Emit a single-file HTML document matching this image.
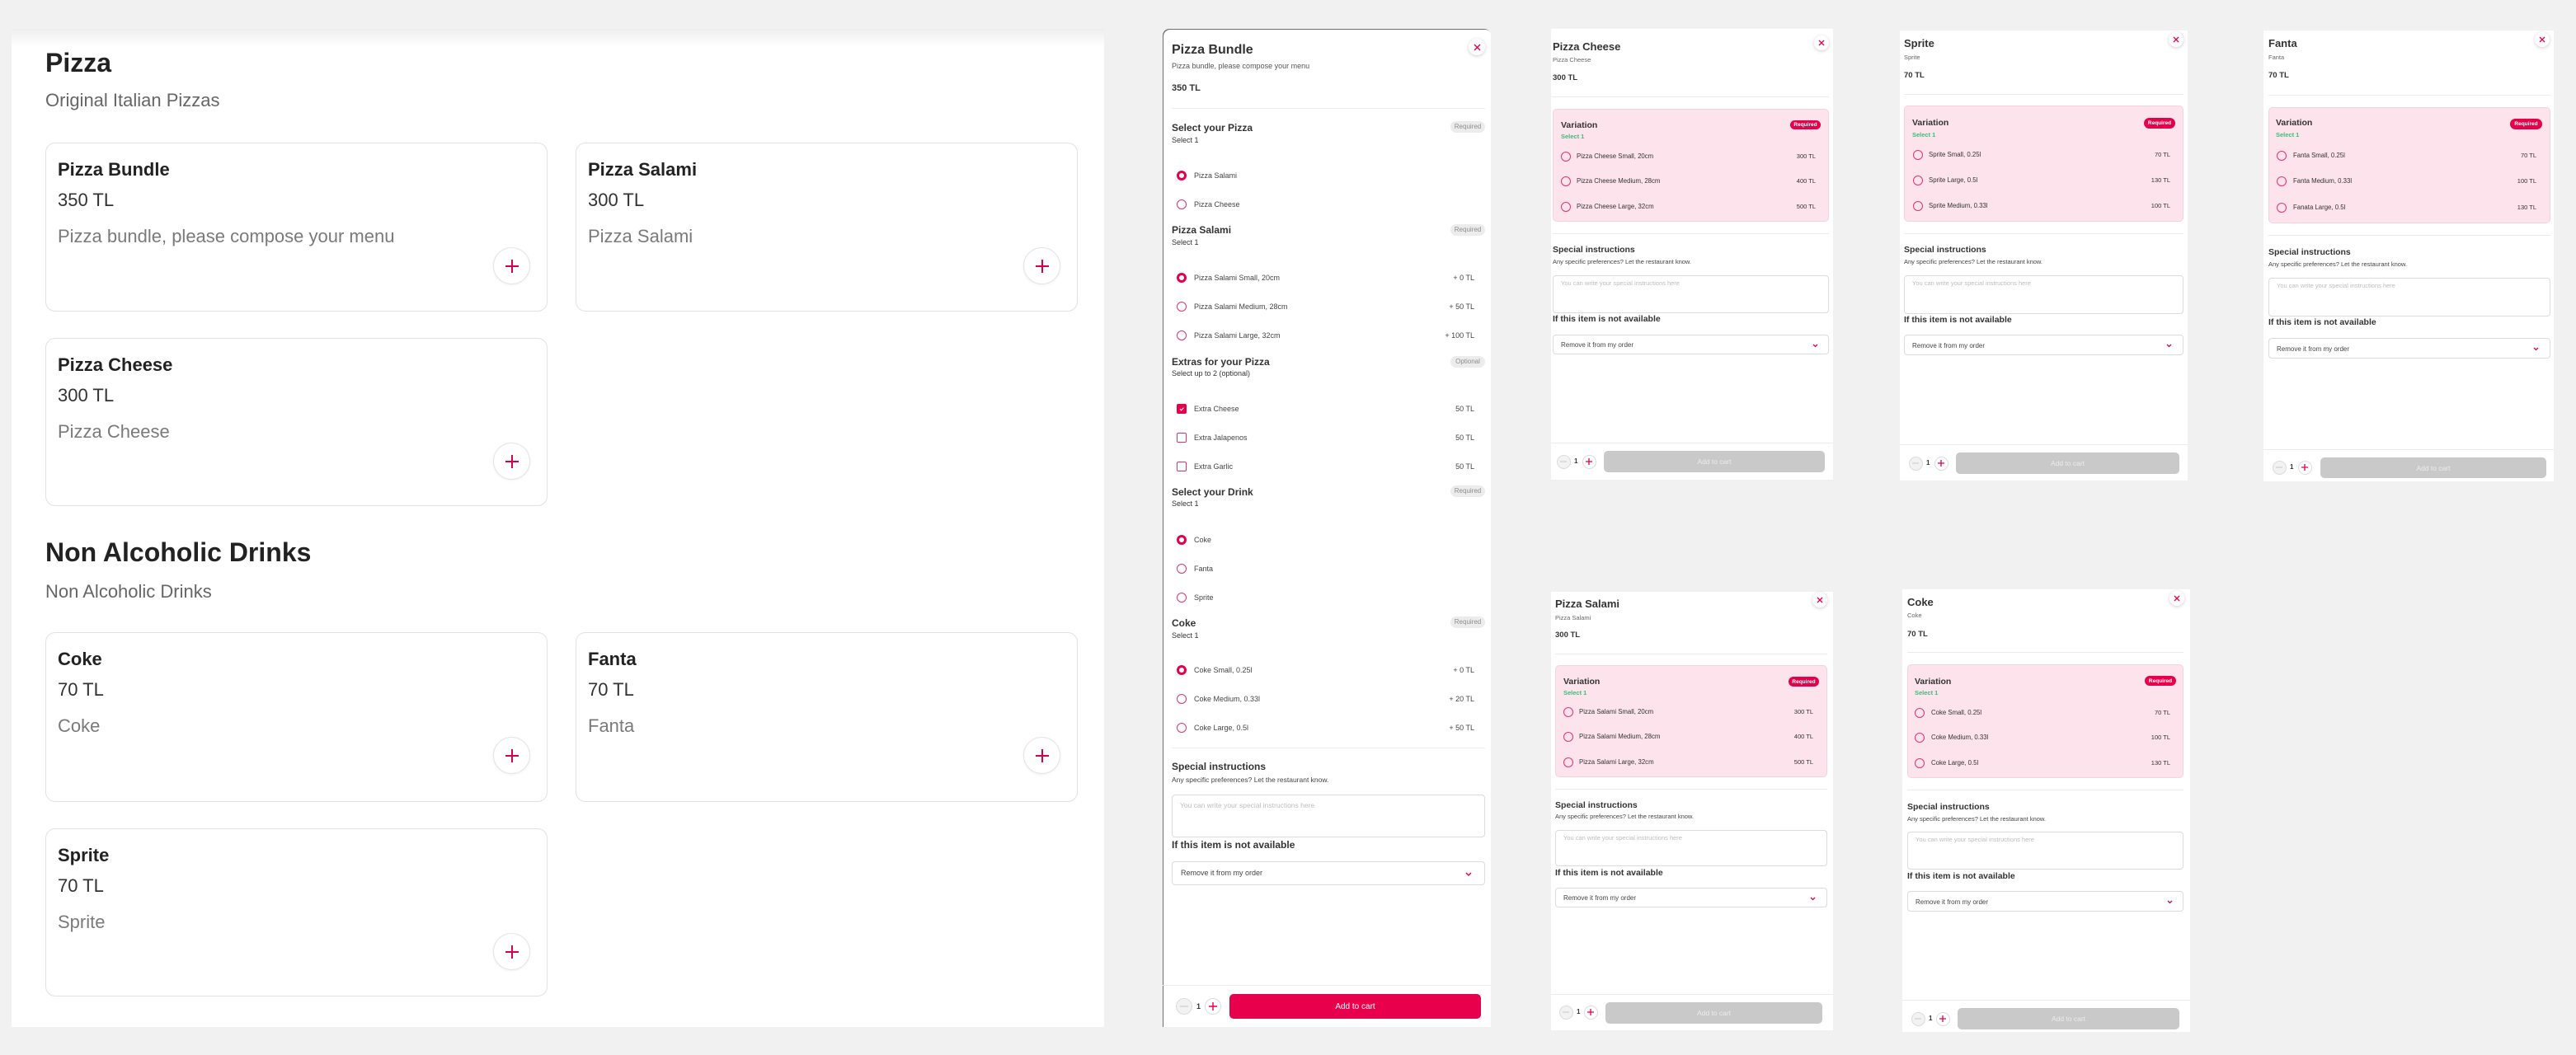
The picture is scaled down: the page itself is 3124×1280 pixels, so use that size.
<!DOCTYPE html>
<html><head><meta charset="utf-8">
<style>
*{margin:0;padding:0;box-sizing:border-box}
body{width:3124px;height:1280px;background:#f1f1f1;position:relative;overflow:hidden;font-family:"Liberation Sans",Arial,sans-serif;color:#333}
.a{position:absolute}
.t{position:absolute;line-height:1;white-space:nowrap}
.card{position:absolute;width:609px;border:1px solid #e2e2e2;border-radius:12px;background:#fff}
.ct{left:14px;top:21px;font-size:22px;font-weight:bold;color:#222}
.cp{left:14px;top:58px;font-size:22px;color:#333}
.cd{left:14px;top:102px;font-size:22px;color:#7a7a7a}
.plus{position:absolute;left:542px;top:126px;width:45px;height:45px;border-radius:50%;border:1px solid #e4e4e4;box-shadow:0 1px 3px rgba(0,0,0,.06);display:flex;align-items:center;justify-content:center;background:#fff}
.pan{position:absolute;background:#fff}
.hr{position:absolute;height:1px;background:#ebebeb}
.xb{position:absolute;border-radius:50%;background:#fff;box-shadow:0 1px 4px rgba(0,0,0,.2);display:flex;align-items:center;justify-content:center}
.bh{font-size:12px;font-weight:bold;color:#333}
.bs{font-size:9px;color:#333}
.bpill{position:absolute;left:349px;width:42px;height:14px;line-height:14px;border-radius:7px;background:#ececec;color:#8c8c8c;font-size:8px;text-align:center}
.row{position:absolute;left:0;right:0;height:12px;line-height:12px;font-size:9px;color:#444;white-space:nowrap}
.rd{position:absolute;top:0;width:12px;height:12px;border-radius:50%;border:1.3px solid #df3570}
.rd.on{border:3.5px solid #e4004b}
.cb{position:absolute;top:0;width:12px;height:12px;border:1.3px solid #d8336b;border-radius:2px}
.cb.on{background:#e4004b;border-color:#e4004b}
.lb{position:absolute;top:0}
.pz{position:absolute;top:0;color:#444}
.box{position:absolute;border:1px solid #dcdcdc;border-radius:4px;background:#fff}
.ph{color:#bdbdbd}
.circ{position:absolute;border-radius:50%;border:1px solid #dcdcdc;display:flex;align-items:center;justify-content:center;background:#fff}
.circ.m{background:#f2f2f2}
.btn{position:absolute;border-radius:5px;display:flex;align-items:center;justify-content:center;white-space:nowrap}
.s-ttl{font-size:13px;font-weight:bold;color:#333}
.s-sub{font-size:7.5px;color:#666}
.s-pr{font-size:9.5px;font-weight:bold;color:#333}
.pink{position:absolute;background:#fde3eb;border:1px solid #f5d2dd;border-radius:5px}
.s-var{font-size:10.5px;font-weight:bold;color:#333}
.s-sel{font-size:7.5px;font-weight:bold;color:#3dbd7d}
.spill{position:absolute;background:#e6004c;color:#fff;font-size:6.5px;font-weight:bold;border-radius:7px;text-align:center;display:flex;align-items:center;justify-content:center}
.srow{position:absolute;left:0;right:0;height:12px;line-height:12px;font-size:7.8px;color:#333;white-space:nowrap}
.srow .pz{color:#333;font-size:7.5px}
.s-h{font-size:10.5px;font-weight:bold;color:#333}
.s-any{font-size:7.5px;color:#444}
</style></head>
<body>

<!-- LEFT MENU PANEL -->
<div class="a" style="left:14px;top:35px;width:1325px;height:1211px;background:linear-gradient(#eeeeee,#fff 22px)"></div>
<div class="t" style="left:55px;top:60px;font-size:32px;font-weight:bold;color:#222">Pizza</div>
<div class="t" style="left:55px;top:111px;font-size:22px;color:#666">Original Italian Pizzas</div>

<div class="card" style="left:55px;top:173px;height:205px"><div class="t ct">Pizza Bundle</div><div class="t cp">350 TL</div><div class="t cd">Pizza bundle, please compose your menu</div><div class="plus"><svg width="18" height="18"><path d="M9 1V17M1 9H17" stroke="#d6004f" stroke-width="2"/></svg></div></div>
<div class="card" style="left:698px;top:173px;height:205px"><div class="t ct">Pizza Salami</div><div class="t cp">300 TL</div><div class="t cd">Pizza Salami</div><div class="plus"><svg width="18" height="18"><path d="M9 1V17M1 9H17" stroke="#d6004f" stroke-width="2"/></svg></div></div>
<div class="card" style="left:55px;top:410px;height:204px"><div class="t ct">Pizza Cheese</div><div class="t cp">300 TL</div><div class="t cd">Pizza Cheese</div><div class="plus"><svg width="18" height="18"><path d="M9 1V17M1 9H17" stroke="#d6004f" stroke-width="2"/></svg></div></div>

<div class="t" style="left:55px;top:654px;font-size:32px;font-weight:bold;color:#222">Non Alcoholic Drinks</div>
<div class="t" style="left:55px;top:707px;font-size:22px;color:#666">Non Alcoholic Drinks</div>

<div class="card" style="left:55px;top:767px;height:206px"><div class="t ct">Coke</div><div class="t cp">70 TL</div><div class="t cd">Coke</div><div class="plus"><svg width="18" height="18"><path d="M9 1V17M1 9H17" stroke="#d6004f" stroke-width="2"/></svg></div></div>
<div class="card" style="left:698px;top:767px;height:206px"><div class="t ct">Fanta</div><div class="t cp">70 TL</div><div class="t cd">Fanta</div><div class="plus"><svg width="18" height="18"><path d="M9 1V17M1 9H17" stroke="#d6004f" stroke-width="2"/></svg></div></div>
<div class="card" style="left:55px;top:1005px;height:204px"><div class="t ct">Sprite</div><div class="t cp">70 TL</div><div class="t cd">Sprite</div><div class="plus"><svg width="18" height="18"><path d="M9 1V17M1 9H17" stroke="#d6004f" stroke-width="2"/></svg></div></div>

<!-- PIZZA BUNDLE PANEL -->
<div class="pan" style="left:1410px;top:35px;width:398px;height:1211px;border-radius:8px 8px 0 0;box-shadow:inset 1px 1px 0 #6f6f6f">
 <div class="t" style="left:11px;top:18px;font-size:16px;font-weight:bold;color:#333">Pizza Bundle</div>
 <div class="xb" style="left:371px;top:12px;width:20px;height:20px"><svg width="9" height="9"><path d="M1 1L8 8M8 1L1 8" stroke="#e0004d" stroke-width="1.4"/></svg></div>
 <div class="t" style="left:11px;top:41px;font-size:9px;color:#555">Pizza bundle, please compose your menu</div>
 <div class="t" style="left:11px;top:67px;font-size:11px;font-weight:bold;color:#333">350 TL</div>
 <div class="hr" style="left:11px;top:96px;width:380px"></div>

 <div class="t bh" style="left:11px;top:114px">Select your Pizza</div>
 <div class="bpill" style="top:112px">Required</div>
 <div class="t bs" style="left:11px;top:131px">Select 1</div>
 <div class="row" style="top:172px"><i class="rd on" style="left:17px"></i><span class="lb" style="left:38px">Pizza Salami</span></div>
 <div class="row" style="top:207px"><i class="rd" style="left:17px"></i><span class="lb" style="left:38px">Pizza Cheese</span></div>

 <div class="t bh" style="left:11px;top:238px">Pizza Salami</div>
 <div class="bpill" style="top:237px">Required</div>
 <div class="t bs" style="left:11px;top:255px">Select 1</div>
 <div class="row" style="top:296px"><i class="rd on" style="left:17px"></i><span class="lb" style="left:38px">Pizza Salami Small, 20cm</span><span class="pz" style="right:20px">+ 0 TL</span></div>
 <div class="row" style="top:331px"><i class="rd" style="left:17px"></i><span class="lb" style="left:38px">Pizza Salami Medium, 28cm</span><span class="pz" style="right:20px">+ 50 TL</span></div>
 <div class="row" style="top:366px"><i class="rd" style="left:17px"></i><span class="lb" style="left:38px">Pizza Salami Large, 32cm</span><span class="pz" style="right:20px">+ 100 TL</span></div>

 <div class="t bh" style="left:11px;top:398px">Extras for your Pizza</div>
 <div class="bpill" style="top:397px">Optional</div>
 <div class="t bs" style="left:11px;top:414px">Select up to 2 (optional)</div>
 <div class="row" style="top:455px"><i class="cb on" style="left:17px"><svg width="10" height="10" style="position:absolute;left:0;top:0"><path d="M3 5.2L4.6 6.8L7.4 3.6" stroke="#fff" stroke-width="1.1" fill="none"/></svg></i><span class="lb" style="left:38px">Extra Cheese</span><span class="pz" style="right:20px">50 TL</span></div>
 <div class="row" style="top:490px"><i class="cb" style="left:17px"></i><span class="lb" style="left:38px">Extra Jalapenos</span><span class="pz" style="right:20px">50 TL</span></div>
 <div class="row" style="top:525px"><i class="cb" style="left:17px"></i><span class="lb" style="left:38px">Extra Garlic</span><span class="pz" style="right:20px">50 TL</span></div>

 <div class="t bh" style="left:11px;top:556px">Select your Drink</div>
 <div class="bpill" style="top:554px">Required</div>
 <div class="t bs" style="left:11px;top:572px">Select 1</div>
 <div class="row" style="top:614px"><i class="rd on" style="left:17px"></i><span class="lb" style="left:38px">Coke</span></div>
 <div class="row" style="top:649px"><i class="rd" style="left:17px"></i><span class="lb" style="left:38px">Fanta</span></div>
 <div class="row" style="top:684px"><i class="rd" style="left:17px"></i><span class="lb" style="left:38px">Sprite</span></div>

 <div class="t bh" style="left:11px;top:715px">Coke</div>
 <div class="bpill" style="top:713px">Required</div>
 <div class="t bs" style="left:11px;top:732px">Select 1</div>
 <div class="row" style="top:772px"><i class="rd on" style="left:17px"></i><span class="lb" style="left:38px">Coke Small, 0.25l</span><span class="pz" style="right:20px">+ 0 TL</span></div>
 <div class="row" style="top:807px"><i class="rd" style="left:17px"></i><span class="lb" style="left:38px">Coke Medium, 0.33l</span><span class="pz" style="right:20px">+ 20 TL</span></div>
 <div class="row" style="top:842px"><i class="rd" style="left:17px"></i><span class="lb" style="left:38px">Coke Large, 0.5l</span><span class="pz" style="right:20px">+ 50 TL</span></div>

 <div class="hr" style="left:11px;top:872px;width:380px"></div>
 <div class="t bh" style="left:11px;top:889px">Special instructions</div>
 <div class="t" style="left:11px;top:907px;font-size:8.5px;color:#444">Any specific preferences? Let the restaurant know.</div>
 <div class="box" style="left:11px;top:929px;width:380px;height:52px"><span class="t ph" style="left:9px;top:8px;font-size:8.5px">You can write your special instructions here</span></div>
 <div class="t bh" style="left:11px;top:984px">If this item is not available</div>
 <div class="box" style="left:11px;top:1010px;width:380px;height:29px"><span class="t" style="left:10px;top:9px;font-size:9px;color:#444">Remove it from my order</span><svg class="a" style="right:15px;top:12px" width="8" height="5"><path d="M1 1L4 4L7 1" stroke="#e0004d" stroke-width="1.4" fill="none"/></svg></div>

 <div class="hr" style="left:0;top:1160px;width:398px"></div>
 <div class="circ m" style="left:16px;top:1176px;width:20px;height:20px"><svg width="10" height="2"><path d="M0 1H10" stroke="#ccc" stroke-width="1.2"/></svg></div>
 <div class="t" style="left:41px;top:1182px;font-size:9px;font-weight:bold;color:#333">1</div>
 <div class="circ" style="left:51px;top:1176px;width:20px;height:20px"><svg width="10" height="10"><path d="M5 0V10M0 5H10" stroke="#e0004d" stroke-width="1.4"/></svg></div>
 <div class="btn" style="left:81px;top:1171px;width:305px;height:30px;background:#e8004c;color:#fff;font-size:10px">Add to cart</div>
</div>

<!-- PIZZA CHEESE -->
<div class="pan" style="left:1881px;top:35px;width:342px;height:547px">
 <div class="t s-ttl" style="left:2px;top:15px">Pizza Cheese</div>
 <div class="xb" style="left:319px;top:8px;width:18px;height:18px"><svg width="8" height="8"><path d="M1 1L7 7M7 1L1 7" stroke="#e0004d" stroke-width="1.3"/></svg></div>
 <div class="t s-sub" style="left:2px;top:34px">Pizza Cheese</div>
 <div class="t s-pr" style="left:2px;top:55px">300 TL</div>
 <div class="hr" style="left:0;top:82px;width:337px"></div>
 <div class="pink" style="left:2px;top:97px;width:335px;height:137px"></div>
 <div class="t s-var" style="left:12px;top:112px">Variation</div>
 <div class="t s-sel" style="left:12px;top:127px">Select 1</div>
 <div class="spill" style="left:290px;top:111px;width:37px;height:11px">Required</div>
 <div class="srow" style="top:149px"><i class="rd" style="left:12px"></i><span class="lb" style="left:31px">Pizza Cheese Small, 20cm</span><span class="pz" style="right:21px">300 TL</span></div>
 <div class="srow" style="top:179px"><i class="rd" style="left:12px"></i><span class="lb" style="left:31px">Pizza Cheese Medium, 28cm</span><span class="pz" style="right:21px">400 TL</span></div>
 <div class="srow" style="top:210px"><i class="rd" style="left:12px"></i><span class="lb" style="left:31px">Pizza Cheese Large, 32cm</span><span class="pz" style="right:21px">500 TL</span></div>
 <div class="hr" style="left:2px;top:248px;width:335px"></div>
 <div class="t s-h" style="left:2px;top:263px">Special instructions</div>
 <div class="t s-any" style="left:2px;top:279px">Any specific preferences? Let the restaurant know.</div>
 <div class="box" style="left:2px;top:299px;width:335px;height:46px"><span class="t ph" style="left:9px;top:5px;font-size:7.5px">You can write your special instructions here</span></div>
 <div class="t s-h" style="left:2px;top:347px">If this item is not available</div>
 <div class="box" style="left:2px;top:371px;width:335px;height:24px"><span class="t" style="left:9px;top:8px;font-size:8px;color:#444">Remove it from my order</span><svg class="a" style="right:12px;top:10px" width="7" height="5"><path d="M1 1L3.5 3.5L6 1" stroke="#e0004d" stroke-width="1.3" fill="none"/></svg></div>
 <div class="hr" style="left:0;top:502px;width:342px"></div>
 <div class="circ m" style="left:6.5px;top:516.5px;width:17px;height:17px"><svg width="8" height="2"><path d="M0 1H8" stroke="#ccc" stroke-width="1.1"/></svg></div>
 <div class="t" style="left:28px;top:521px;font-size:8px;font-weight:bold">1</div>
 <div class="circ" style="left:37.5px;top:516.5px;width:17px;height:17px"><svg width="8" height="8"><path d="M4 0V8M0 4H8" stroke="#e0004d" stroke-width="1.3"/></svg></div>
 <div class="btn" style="left:64px;top:512px;width:268px;height:26px;background:#c9c9c9;color:#ececec;font-size:8.5px">Add to cart</div>
</div>

<!-- SPRITE -->
<div class="pan" style="left:2304px;top:37px;width:349px;height:546px">
 <div class="t s-ttl" style="left:5px;top:9px">Sprite</div>
 <div class="xb" style="left:326px;top:2px;width:18px;height:18px"><svg width="8" height="8"><path d="M1 1L7 7M7 1L1 7" stroke="#e0004d" stroke-width="1.3"/></svg></div>
 <div class="t s-sub" style="left:5px;top:29px">Sprite</div>
 <div class="t s-pr" style="left:5px;top:50px">70 TL</div>
 <div class="hr" style="left:5px;top:77px;width:339px"></div>
 <div class="pink" style="left:5px;top:91px;width:339px;height:141px"></div>
 <div class="t s-var" style="left:15px;top:107px">Variation</div>
 <div class="t s-sel" style="left:15px;top:123px">Select 1</div>
 <div class="spill" style="left:296px;top:106px;width:38px;height:13px">Required</div>
 <div class="srow" style="top:145px"><i class="rd" style="left:16px"></i><span class="lb" style="left:35px">Sprite Small, 0.25l</span><span class="pz" style="right:21px">70 TL</span></div>
 <div class="srow" style="top:176px"><i class="rd" style="left:16px"></i><span class="lb" style="left:35px">Sprite Large, 0.5l</span><span class="pz" style="right:21px">130 TL</span></div>
 <div class="srow" style="top:207px"><i class="rd" style="left:16px"></i><span class="lb" style="left:35px">Sprite Medium, 0.33l</span><span class="pz" style="right:21px">100 TL</span></div>
 <div class="hr" style="left:5px;top:246px;width:339px"></div>
 <div class="t s-h" style="left:5px;top:261px">Special instructions</div>
 <div class="t s-any" style="left:5px;top:277px">Any specific preferences? Let the restaurant know.</div>
 <div class="box" style="left:5px;top:297px;width:339px;height:47px"><span class="t ph" style="left:9px;top:5px;font-size:7.5px">You can write your special instructions here</span></div>
 <div class="t s-h" style="left:5px;top:346px">If this item is not available</div>
 <div class="box" style="left:5px;top:369px;width:339px;height:25px"><span class="t" style="left:9px;top:8.5px;font-size:8px;color:#444">Remove it from my order</span><svg class="a" style="right:13.5px;top:10px" width="7" height="5"><path d="M1 1L3.5 3.5L6 1" stroke="#e0004d" stroke-width="1.3" fill="none"/></svg></div>
 <div class="hr" style="left:0;top:502px;width:349px"></div>
 <div class="circ m" style="left:10.5px;top:516.5px;width:17px;height:17px"><svg width="8" height="2"><path d="M0 1H8" stroke="#ccc" stroke-width="1.1"/></svg></div>
 <div class="t" style="left:32px;top:521px;font-size:8px;font-weight:bold">1</div>
 <div class="circ" style="left:41.5px;top:516.5px;width:17px;height:17px"><svg width="8" height="8"><path d="M4 0V8M0 4H8" stroke="#e0004d" stroke-width="1.3"/></svg></div>
 <div class="btn" style="left:68px;top:512px;width:271px;height:26px;background:#c9c9c9;color:#ececec;font-size:8.5px">Add to cart</div>
</div>

<!-- FANTA -->
<div class="pan" style="left:2745px;top:37px;width:352px;height:547px">
 <div class="t s-ttl" style="left:6px;top:9px">Fanta</div>
 <div class="xb" style="left:329px;top:2px;width:18px;height:18px"><svg width="8" height="8"><path d="M1 1L7 7M7 1L1 7" stroke="#e0004d" stroke-width="1.3"/></svg></div>
 <div class="t s-sub" style="left:6px;top:29px">Fanta</div>
 <div class="t s-pr" style="left:6px;top:50px">70 TL</div>
 <div class="hr" style="left:6px;top:78px;width:342px"></div>
 <div class="pink" style="left:6px;top:93px;width:342px;height:141px"></div>
 <div class="t s-var" style="left:15px;top:107px">Variation</div>
 <div class="t s-sel" style="left:15px;top:123px">Select 1</div>
 <div class="spill" style="left:299px;top:107px;width:39px;height:13px">Required</div>
 <div class="srow" style="top:146px"><i class="rd" style="left:16px"></i><span class="lb" style="left:36px">Fanta Small, 0.25l</span><span class="pz" style="right:21px">70 TL</span></div>
 <div class="srow" style="top:177px"><i class="rd" style="left:16px"></i><span class="lb" style="left:36px">Fanta Medium, 0.33l</span><span class="pz" style="right:21px">100 TL</span></div>
 <div class="srow" style="top:209px"><i class="rd" style="left:16px"></i><span class="lb" style="left:36px">Fanata Large, 0.5l</span><span class="pz" style="right:21px">130 TL</span></div>
 <div class="hr" style="left:6px;top:248px;width:342px"></div>
 <div class="t s-h" style="left:6px;top:264px">Special instructions</div>
 <div class="t s-any" style="left:6px;top:280px">Any specific preferences? Let the restaurant know.</div>
 <div class="box" style="left:6px;top:300px;width:342px;height:47px"><span class="t ph" style="left:9px;top:5px;font-size:7.5px">You can write your special instructions here</span></div>
 <div class="t s-h" style="left:6px;top:349px">If this item is not available</div>
 <div class="box" style="left:6px;top:373px;width:342px;height:25px"><span class="t" style="left:9px;top:8.5px;font-size:8px;color:#444">Remove it from my order</span><svg class="a" style="right:13.5px;top:10px" width="7" height="5"><path d="M1 1L3.5 3.5L6 1" stroke="#e0004d" stroke-width="1.3" fill="none"/></svg></div>
 <div class="hr" style="left:0;top:508px;width:352px"></div>
 <div class="circ m" style="left:10.5px;top:521.5px;width:17px;height:17px"><svg width="8" height="2"><path d="M0 1H8" stroke="#ccc" stroke-width="1.1"/></svg></div>
 <div class="t" style="left:32px;top:526px;font-size:8px;font-weight:bold">1</div>
 <div class="circ" style="left:41.5px;top:521.5px;width:17px;height:17px"><svg width="8" height="8"><path d="M4 0V8M0 4H8" stroke="#e0004d" stroke-width="1.3"/></svg></div>
 <div class="btn" style="left:69px;top:518px;width:274px;height:25px;background:#c9c9c9;color:#ececec;font-size:8.5px">Add to cart</div>
</div>

<!-- PIZZA SALAMI -->
<div class="pan" style="left:1881px;top:718px;width:342px;height:532px">
 <div class="t s-ttl" style="left:5px;top:8px">Pizza Salami</div>
 <div class="xb" style="left:317px;top:1px;width:18px;height:18px"><svg width="8" height="8"><path d="M1 1L7 7M7 1L1 7" stroke="#e0004d" stroke-width="1.3"/></svg></div>
 <div class="t s-sub" style="left:5px;top:28px">Pizza Salami</div>
 <div class="t s-pr" style="left:5px;top:48px">300 TL</div>
 <div class="hr" style="left:5px;top:75px;width:330px"></div>
 <div class="pink" style="left:5px;top:89px;width:330px;height:136px"></div>
 <div class="t s-var" style="left:15px;top:104px">Variation</div>
 <div class="t s-sel" style="left:15px;top:119px">Select 1</div>
 <div class="spill" style="left:288px;top:103px;width:37px;height:12px">Required</div>
 <div class="srow" style="top:140px"><i class="rd" style="left:15px"></i><span class="lb" style="left:34px">Pizza Salami Small, 20cm</span><span class="pz" style="right:24px">300 TL</span></div>
 <div class="srow" style="top:170px"><i class="rd" style="left:15px"></i><span class="lb" style="left:34px">Pizza Salami Medium, 28cm</span><span class="pz" style="right:24px">400 TL</span></div>
 <div class="srow" style="top:201px"><i class="rd" style="left:15px"></i><span class="lb" style="left:34px">Pizza Salami Large, 32cm</span><span class="pz" style="right:24px">500 TL</span></div>
 <div class="hr" style="left:5px;top:239px;width:330px"></div>
 <div class="t s-h" style="left:5px;top:254px">Special instructions</div>
 <div class="t s-any" style="left:5px;top:269px">Any specific preferences? Let the restaurant know.</div>
 <div class="box" style="left:5px;top:289px;width:330px;height:44px"><span class="t ph" style="left:9px;top:5px;font-size:7.5px">You can write your special instructions here</span></div>
 <div class="t s-h" style="left:5px;top:336px">If this item is not available</div>
 <div class="box" style="left:5px;top:359px;width:330px;height:24px"><span class="t" style="left:9px;top:8px;font-size:8px;color:#444">Remove it from my order</span><svg class="a" style="right:13.5px;top:10px" width="7" height="5"><path d="M1 1L3.5 3.5L6 1" stroke="#e0004d" stroke-width="1.3" fill="none"/></svg></div>
 <div class="hr" style="left:0;top:488px;width:342px"></div>
 <div class="circ m" style="left:9.5px;top:501.5px;width:17px;height:17px"><svg width="8" height="2"><path d="M0 1H8" stroke="#ccc" stroke-width="1.1"/></svg></div>
 <div class="t" style="left:31px;top:506px;font-size:8px;font-weight:bold">1</div>
 <div class="circ" style="left:39.5px;top:501.5px;width:17px;height:17px"><svg width="8" height="8"><path d="M4 0V8M0 4H8" stroke="#e0004d" stroke-width="1.3"/></svg></div>
 <div class="btn" style="left:66px;top:498px;width:263px;height:26px;background:#c9c9c9;color:#ececec;font-size:8.5px">Add to cart</div>
</div>

<!-- COKE -->
<div class="pan" style="left:2307px;top:715px;width:349px;height:537px">
 <div class="t s-ttl" style="left:6px;top:9px">Coke</div>
 <div class="xb" style="left:324px;top:2px;width:18px;height:18px"><svg width="8" height="8"><path d="M1 1L7 7M7 1L1 7" stroke="#e0004d" stroke-width="1.3"/></svg></div>
 <div class="t s-sub" style="left:6px;top:28px">Coke</div>
 <div class="t s-pr" style="left:6px;top:50px">70 TL</div>
 <div class="hr" style="left:6px;top:76px;width:335px"></div>
 <div class="pink" style="left:6px;top:91px;width:335px;height:138px"></div>
 <div class="t s-var" style="left:15px;top:107px">Variation</div>
 <div class="t s-sel" style="left:15px;top:122px">Select 1</div>
 <div class="spill" style="left:294px;top:105px;width:38px;height:12px">Required</div>
 <div class="srow" style="top:144px"><i class="rd" style="left:15px"></i><span class="lb" style="left:35px">Coke Small, 0.25l</span><span class="pz" style="right:24px">70 TL</span></div>
 <div class="srow" style="top:174px"><i class="rd" style="left:15px"></i><span class="lb" style="left:35px">Coke Medium, 0.33l</span><span class="pz" style="right:24px">100 TL</span></div>
 <div class="srow" style="top:205px"><i class="rd" style="left:15px"></i><span class="lb" style="left:35px">Coke Large, 0.5l</span><span class="pz" style="right:24px">130 TL</span></div>
 <div class="hr" style="left:6px;top:243px;width:335px"></div>
 <div class="t s-h" style="left:6px;top:259px">Special instructions</div>
 <div class="t s-any" style="left:6px;top:275px">Any specific preferences? Let the restaurant know.</div>
 <div class="box" style="left:6px;top:294px;width:335px;height:46px"><span class="t ph" style="left:9px;top:5px;font-size:7.5px">You can write your special instructions here</span></div>
 <div class="t s-h" style="left:6px;top:343px">If this item is not available</div>
 <div class="box" style="left:6px;top:366px;width:335px;height:25px"><span class="t" style="left:9px;top:8.5px;font-size:8px;color:#444">Remove it from my order</span><svg class="a" style="right:12.5px;top:10px" width="7" height="5"><path d="M1 1L3.5 3.5L6 1" stroke="#e0004d" stroke-width="1.3" fill="none"/></svg></div>
 <div class="hr" style="left:0;top:498px;width:349px"></div>
 <div class="circ m" style="left:10.5px;top:512.5px;width:17px;height:17px"><svg width="8" height="2"><path d="M0 1H8" stroke="#ccc" stroke-width="1.1"/></svg></div>
 <div class="t" style="left:32px;top:517px;font-size:8px;font-weight:bold">1</div>
 <div class="circ" style="left:40.5px;top:512.5px;width:17px;height:17px"><svg width="8" height="8"><path d="M4 0V8M0 4H8" stroke="#e0004d" stroke-width="1.3"/></svg></div>
 <div class="btn" style="left:67px;top:508px;width:269px;height:26px;background:#c9c9c9;color:#ececec;font-size:8.5px">Add to cart</div>
</div>

</body></html>
